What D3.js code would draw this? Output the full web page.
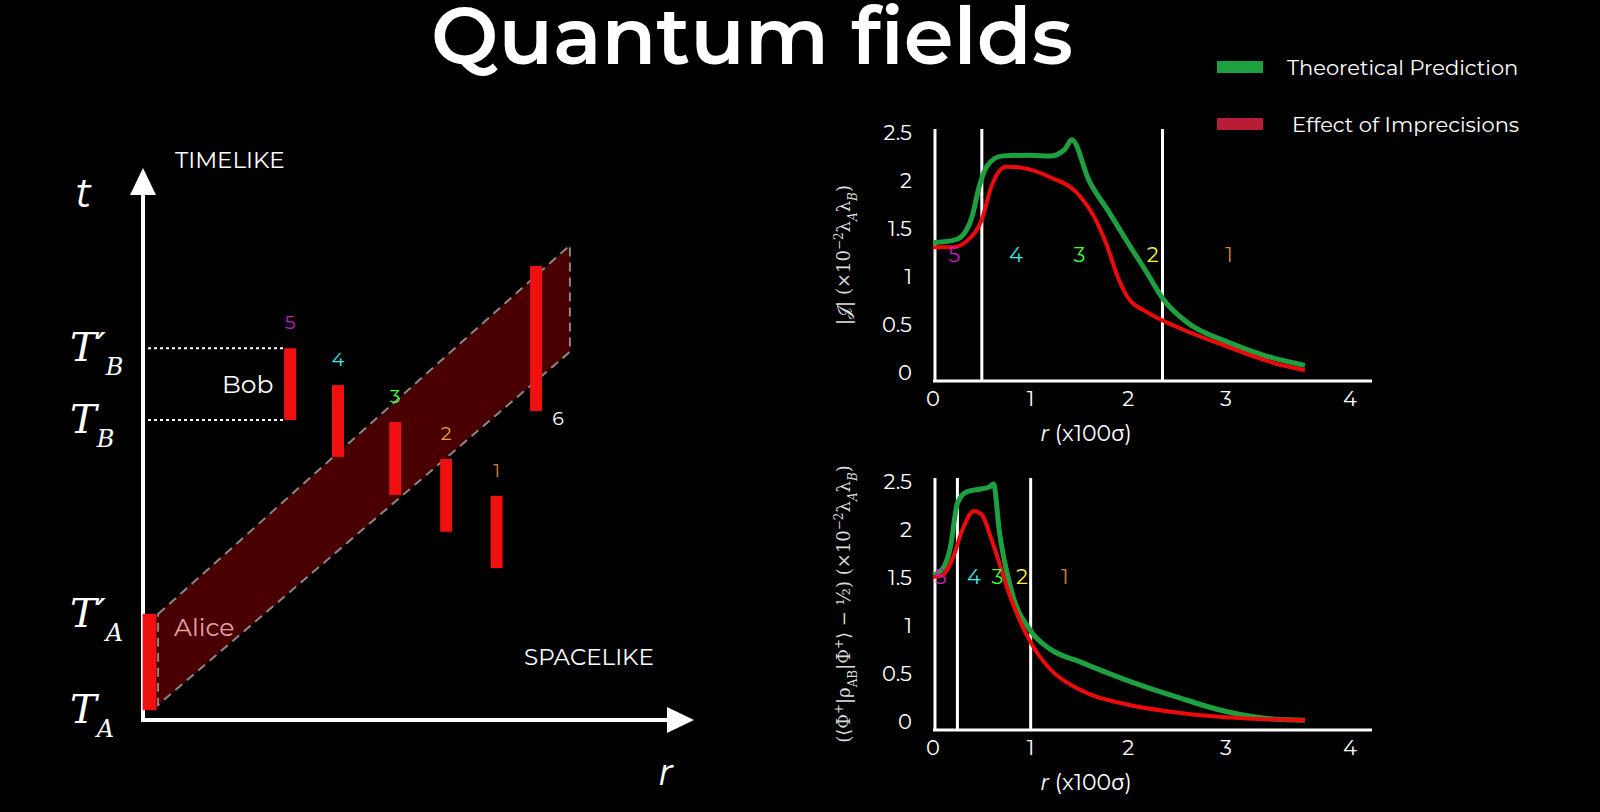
<!DOCTYPE html>
<html><head><meta charset="utf-8">
<script src="https://cdn.jsdelivr.net/npm/d3@7"></script>
<style>body{margin:0;background:#000;}svg{display:block;font-family:Montserrat,"Open Sans",sans-serif;}</style>
</head><body>
<svg id="c" width="1600" height="812"></svg>
<script>
// ---- data ----
const topGreen = [[0,1.38],[0.2,1.4],[0.3,1.45],[0.4,1.65],[0.47,1.95],[0.55,2.17],[0.7,2.28],[1.0,2.29],[1.2,2.28],[1.35,2.35],[1.42,2.45],[1.6,2.02],[1.8,1.7],[2.0,1.37],[2.2,1.05],[2.35,0.8],[2.6,0.55],[3.0,0.35],[3.4,0.2],[3.8,0.1]];
const topRed = [[0,1.33],[0.2,1.33],[0.35,1.4],[0.5,1.62],[0.6,1.97],[0.75,2.17],[0.9,2.16],[1.2,2.06],[1.5,1.87],[1.65,1.65],[1.78,1.35],[1.9,1.0],[2.0,0.8],[2.2,0.65],[2.5,0.5],[3.0,0.3],[3.5,0.12],[3.8,0.05]];
const botGreen = [[0,1.55],[0.1,1.62],[0.18,1.85],[0.25,2.3],[0.35,2.42],[0.5,2.45],[0.58,2.47],[0.62,2.5],[0.68,2.0],[0.8,1.4],[1.0,0.97],[1.2,0.78],[1.5,0.65],[2.0,0.45],[2.5,0.28],[3.0,0.13],[3.5,0.05],[3.8,0.04]];
const botRed = [[0,1.53],[0.1,1.55],[0.2,1.72],[0.3,2.02],[0.42,2.22],[0.5,2.18],[0.6,1.92],[0.8,1.3],[1.0,0.85],[1.2,0.57],[1.5,0.36],[2.0,0.2],[2.5,0.12],[3.0,0.07],[3.8,0.04]];
const xTicks = [0,1,2,3,4];
const yTicks = [0,0.5,1,1.5,2,2.5];
const topVLines = [0.5,2.35];
const botVLines = [0.25,1.0];
const regionLabels = ["5","4","3","2","1"];
const topRegionX = [0.22,0.85,1.5,2.25,3.03];
const botRegionX = [0.08,0.42,0.66,0.91,1.35];
const regionColors = ["#c020c0","#40e8e8","#40ff40","#f0f040","#d08030"];
// left diagram (abstract units 0-100)
const bobBars = [{id:"5",r:28.3,t0:57.7,t1:71.5},{id:"4",r:37.5,t0:50.6,t1:64.4},{id:"3",r:48.5,t0:43.3,t1:57.3},{id:"2",r:58.3,t0:36.2,t1:50.2},{id:"1",r:68,t0:29.2,t1:43.1},{id:"6",r:75.6,t0:59.4,t1:87.3}];
const aliceBar = {r:0.5,t0:1.9,t1:20.4};
const band = [[2.9,20.4],[82.1,91.3],[82.1,70.8],[2.9,2.9]];
const tTicks = [{t:71.5,lab:"T′",sub:"B"},{t:57.7,lab:"T",sub:"B"},{t:20.4,lab:"T′",sub:"A"},{t:1.9,lab:"T",sub:"A"}];
const barColors = {"5":"#c020c0","4":"#40e8e8","3":"#40ff40","2":"#f0a030","1":"#d08030","6":"#ffffff"};

const svg = d3.select("#c");
svg.append("rect").attr("width",1600).attr("height",812).attr("fill","#000");
svg.append("text").attr("x",752).attr("y",64).attr("text-anchor","middle").attr("fill","#fff")
  .attr("font-size",80).attr("font-weight",600).text("Quantum fields");

// legend
svg.append("rect").attr("x",1217).attr("y",61).attr("width",46).attr("height",12).attr("fill","#1fa040");
svg.append("text").attr("x",1287).attr("y",75).attr("fill","#fff").attr("font-size",21).text("Theoretical Prediction");
svg.append("rect").attr("x",1217).attr("y",118).attr("width",46).attr("height",12).attr("fill","#b81c34");
svg.append("text").attr("x",1292).attr("y",132).attr("fill","#fff").attr("font-size",21).text("Effect of Imprecisions");

function panel(y0,y1,green,red,vlines,regX,regY,ylab){
  const x = d3.scaleLinear().domain([0,3,3.8,4]).range([933,1226,1305,1350]);
  const y = d3.scaleLinear().domain([0,2.5]).range([y0,y1]);
  const g = svg.append("g");
  g.append("line").attr("x1",933).attr("x2",1372).attr("y1",y0+6).attr("y2",y0+6).attr("stroke","#fff").attr("stroke-width",3);
  g.append("line").attr("x1",935).attr("x2",935).attr("y1",y1-6).attr("y2",y0+6).attr("stroke","#fff").attr("stroke-width",3);
  vlines.forEach(v=>g.append("line").attr("x1",x(v)).attr("x2",x(v)).attr("y1",y1-6).attr("y2",y0+6).attr("stroke","#fff").attr("stroke-width",3));
  xTicks.forEach(t=>g.append("text").attr("x",x(t)).attr("y",y0+31).attr("text-anchor","middle").attr("fill","#fff").attr("font-size",21).text(t));
  yTicks.forEach(t=>g.append("text").attr("x",912).attr("y",y(t)+5).attr("text-anchor","end").attr("fill","#fff").attr("font-size",21).text(t));
  g.append("text").attr("x",1086).attr("y",y0+66).attr("text-anchor","middle").attr("fill","#fff").attr("font-size",22)
    .html('<tspan font-style="italic">r</tspan> (x100σ)');
  const line = d3.line().x(d=>x(d[0])).y(d=>y(d[1])).curve(d3.curveMonotoneX);
  g.append("path").attr("d",line(green)).attr("fill","none").attr("stroke","#1fa040").attr("stroke-width",5);
  g.append("path").attr("d",line(red)).attr("fill","none").attr("stroke","#ee0a0a").attr("stroke-width",4);
  regionLabels.forEach((l,i)=>g.append("text").attr("x",x(regX[i])).attr("y",regY).attr("text-anchor","middle")
    .attr("fill",regionColors[i]).attr("font-size",21).text(l));
  g.append("text").attr("transform",`translate(850,${(y0+y1)/2}) rotate(-90)`).attr("text-anchor","middle")
    .attr("fill","#ddd").attr("font-size",18).attr("font-family","DejaVu Serif").html(ylab);
}
panel(375,135,topGreen,topRed,topVLines,topRegionX,262,
  '|𝒥| (×10<tspan baseline-shift="super" font-size="12">−2</tspan>λ<tspan baseline-shift="sub" font-size="12" font-style="italic">A</tspan>λ<tspan baseline-shift="sub" font-size="12" font-style="italic">B</tspan>)');
panel(724,484,botGreen,botRed,botVLines,botRegionX,584,
  '(⟨Φ<tspan baseline-shift="super" font-size="12">+</tspan>|ρ<tspan baseline-shift="sub" font-size="12">AB</tspan>|Φ<tspan baseline-shift="super" font-size="12">+</tspan>⟩ − ½) (×10<tspan baseline-shift="super" font-size="12">−2</tspan>λ<tspan baseline-shift="sub" font-size="12" font-style="italic">A</tspan>λ<tspan baseline-shift="sub" font-size="12" font-style="italic">B</tspan>)');

// left diagram
const rs = d3.scaleLinear().domain([0,100]).range([143,663]);
const ts = d3.scaleLinear().domain([0,100]).range([720,200]);
const L = svg.append("g");
L.append("path").attr("d",d3.line().x(d=>rs(d[0])).y(d=>ts(d[1]))(band)+"Z")
  .attr("fill","#4a0000").attr("stroke","#888").attr("stroke-width",2).attr("stroke-dasharray","9,6");
L.append("line").attr("x1",rs(0)).attr("x2",rs(0)).attr("y1",ts(0)).attr("y2",185).attr("stroke","#fff").attr("stroke-width",4);
L.append("path").attr("d","M143,168 L130,195 L156,195Z").attr("fill","#fff");
L.append("line").attr("x1",rs(0)-2).attr("x2",676).attr("y1",ts(0)).attr("y2",ts(0)).attr("stroke","#fff").attr("stroke-width",4);
L.append("path").attr("d","M694,720 L667,707 L667,733Z").attr("fill","#fff");
L.append("text").attr("x",75).attr("y",207).attr("fill","#fff").attr("font-size",42).attr("font-style","italic").text("t");
L.append("text").attr("x",658).attr("y",785).attr("fill","#fff").attr("font-size",38).attr("font-style","italic").text("r");
L.append("text").attr("x",175).attr("y",168).attr("fill","#fff").attr("font-size",23).text("TIMELIKE");
L.append("text").attr("x",524).attr("y",665).attr("fill","#fff").attr("font-size",23).text("SPACELIKE");
[bobBars[0].t0,bobBars[0].t1].forEach(t=>L.append("line").attr("x1",148).attr("x2",rs(bobBars[0].r)-6).attr("y1",ts(t)).attr("y2",ts(t))
  .attr("stroke","#fff").attr("stroke-width",2).attr("stroke-dasharray","3,3"));
L.append("text").attr("x",222).attr("y",393).attr("fill","#fff").attr("font-size",25).text("Bob");
bobBars.forEach(b=>{
  L.append("rect").attr("x",rs(b.r)-6).attr("width",12).attr("y",ts(b.t1)).attr("height",ts(b.t0)-ts(b.t1)).attr("fill","#f01010");
  const lx = b.id==="6" ? rs(b.r)+22 : rs(b.r);
  const ly = b.id==="6" ? ts(b.t0)+14 : ts(b.t1)-19;
  L.append("text").attr("x",lx).attr("y",ly).attr("text-anchor","middle").attr("fill",barColors[b.id]).attr("font-size",19).text(b.id);
});
L.append("rect").attr("x",rs(aliceBar.r)-3).attr("width",14).attr("y",ts(aliceBar.t1)).attr("height",ts(aliceBar.t0)-ts(aliceBar.t1)).attr("fill","#f01010");
L.append("text").attr("x",174).attr("y",636).attr("fill","#e8a0a8").attr("font-size",25).text("Alice");
tTicks.forEach(k=>{
  const tx = L.append("text").attr("x",70).attr("y",ts(k.t)+13).attr("fill","#fff").attr("font-size",40).attr("font-family","DejaVu Serif").attr("font-style","italic");
  tx.append("tspan").text(k.lab);
  tx.append("tspan").attr("font-size",24).attr("dy",14).text(k.sub);
});
</script>
</body></html>
